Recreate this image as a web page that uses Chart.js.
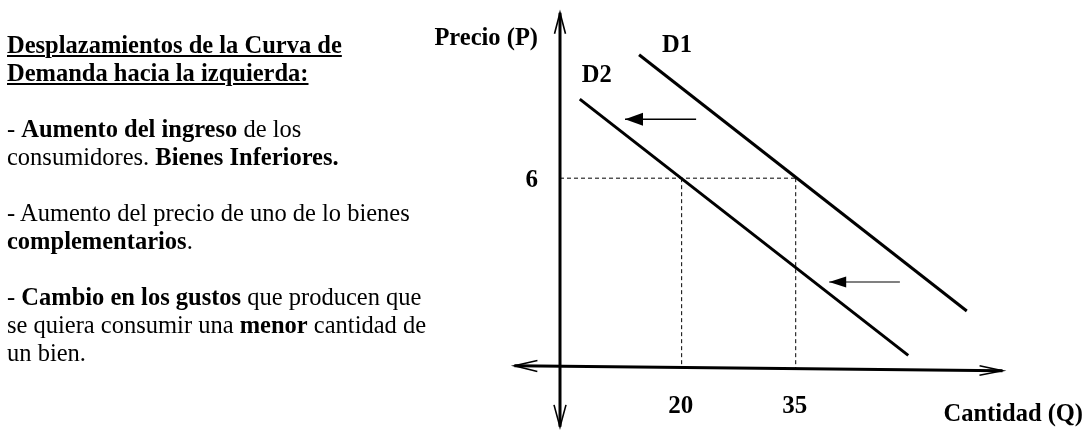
<!DOCTYPE html>
<html>
<head>
<meta charset="utf-8">
<script src="https://cdn.jsdelivr.net/npm/chart.js@4.4.1/dist/chart.umd.min.js"></script>
<style>
html,body{margin:0;padding:0;background:#fff;width:1088px;height:447px;overflow:hidden}
#wrap{position:absolute;left:0;top:0;width:1088px;height:447px}
#txt{position:absolute;left:7px;top:31px;font-family:"Liberation Serif","Times New Roman",serif;font-size:24.5px;line-height:28px;color:#000;white-space:nowrap;z-index:2}
#txt u{text-decoration-thickness:2px;text-underline-offset:2px}
</style>
</head>
<body>
<div id="wrap"><canvas id="c" width="1088" height="447"></canvas></div>
<div id="txt"><b><u>Desplazamientos de la Curva de</u></b><br><b><u>Demanda hacia la izquierda:</u></b><br><br>- <b>Aumento del ingreso</b> de los<br>consumidores. <b>Bienes Inferiores.</b><br><br>- Aumento del precio de uno de lo bienes<br><b>complementarios</b>.<br><br>- <b>Cambio en los gustos</b> que producen que<br>se quiera consumir una <b>menor</b> cantidad de<br>un bien.</div>
<script>
// ---- data (Q = cantidad, P = precio) ----
const xTickValues = [20, 35];
const yTickValues = [6];
const curveD1 = [{x:14.4, y:9.9}, {x:57.5, y:1.8}];
const curveD2 = [{x:6.6, y:8.5}, {x:49.8, y:0.4}];
const guidePrice = [{x:4, y:6}, {x:35, y:6}];
const guideQ20 = [{x:20, y:6}, {x:20, y:0}];
const guideQ35 = [{x:35, y:6}, {x:35, y:0}];
const axisPrice = [{x:4, y:11.23}, {x:4, y:-1.86}];
const axisQty = [{x:-2, y:0.07}, {x:62.2, y:-0.085}];
const shiftUpper = [{x:21.9, y:7.86}, {x:12.55, y:7.86}];
const shiftLower = [{x:48.7, y:2.72}, {x:39.4, y:2.72}];
const curveNames = ['D1', 'D2'];
const axisTitles = ['Precio (P)', 'Cantidad (Q)'];

const FONT = 'bold 24.5px "Liberation Serif", "Times New Roman", serif';
const NUMFONT = 'bold 25px "Liberation Serif", "Times New Roman", serif';

function ds(data, color, width, dash){
  return {data, showLine:true, borderColor:color, borderWidth:width, borderDash:dash||[],
          pointRadius:0, pointHoverRadius:0, fill:false, tension:0, clip:false, borderCapStyle:'butt'};
}

const deco = {
  id:'deco',
  afterDatasetsDraw(chart){
    const ctx = chart.ctx, xs = chart.scales.x, ys = chart.scales.y;
    const P = (i,j)=>chart.getDatasetMeta(i).data[j];
    function openHead(tip, from, len, half){
      const a = Math.atan2(tip.y-from.y, tip.x-from.x);
      const bx = tip.x - Math.cos(a)*len, by = tip.y - Math.sin(a)*len;
      const nx = -Math.sin(a)*half, ny = Math.cos(a)*half;
      ctx.save(); ctx.strokeStyle='#000'; ctx.lineWidth=1.6; ctx.lineJoin='miter';
      ctx.beginPath(); ctx.moveTo(bx+nx,by+ny); ctx.lineTo(tip.x,tip.y); ctx.lineTo(bx-nx,by-ny); ctx.stroke();
      ctx.restore();
    }
    function filledHead(tip, from, len, half){
      const a = Math.atan2(tip.y-from.y, tip.x-from.x);
      const bx = tip.x - Math.cos(a)*len, by = tip.y - Math.sin(a)*len;
      const nx = -Math.sin(a)*half, ny = Math.cos(a)*half;
      ctx.save(); ctx.fillStyle='#000';
      ctx.beginPath(); ctx.moveTo(tip.x,tip.y); ctx.lineTo(bx+nx,by+ny); ctx.lineTo(bx-nx,by-ny); ctx.closePath(); ctx.fill();
      ctx.restore();
    }
    // axes (datasets 5 and 6)
    openHead(P(5,0), P(5,1), 21, 5.5);
    openHead(P(5,1), P(5,0), 22, 6);
    openHead(P(6,0), P(6,1), 23, 5.5);
    openHead(P(6,1), P(6,0), 23, 4.8);
    // shift arrows (datasets 7 and 8)
    filledHead(P(7,1), P(7,0), 18, 6.5);
    filledHead(P(8,1), P(8,0), 17, 5.5);

    ctx.save();
    ctx.fillStyle = '#000';
    ctx.textBaseline = 'alphabetic';
    // tick labels
    ctx.font = NUMFONT;
    ctx.textAlign = 'center';
    const axisY = ys.getPixelForValue(0);
    xTickValues.forEach(v => ctx.fillText(String(v), xs.getPixelForValue(v) - 1, axisY + 45));
    ctx.textAlign = 'right';
    const axisX = xs.getPixelForValue(4);
    yTickValues.forEach(v => ctx.fillText(String(v), axisX - 22, ys.getPixelForValue(v) + 9));
    // curve names
    ctx.font = FONT;
    ctx.textAlign = 'left';
    const d1 = P(0,0), d2 = P(1,0);
    ctx.fillText(curveNames[0], d1.x + 23, d1.y - 3);
    ctx.fillText(curveNames[1], d2.x + 2, d2.y - 17);
    // axis titles
    ctx.textAlign = 'right';
    ctx.fillText(axisTitles[0], axisX - 22, ys.getPixelForValue(10.21));
    ctx.fillText(axisTitles[1], 1083, axisY + 53);
    ctx.restore();
  }
};

new Chart(document.getElementById('c'), {
  type:'scatter',
  data:{datasets:[
    ds(curveD1, '#000', 3),
    ds(curveD2, '#000', 3),
    ds(guidePrice, '#000', 1, [4,3]),
    ds(guideQ20, '#000', 1, [4,3]),
    ds(guideQ35, '#000', 1, [4,3]),
    ds(axisPrice, '#000', 3),
    ds(axisQty, '#000', 3),
    ds(shiftUpper, '#000', 1.5),
    ds(shiftLower, '#808080', 2)
  ]},
  options:{
    responsive:false, animation:false, devicePixelRatio:1,
    layout:{padding:{left:560, right:87, top:20, bottom:79}},
    plugins:{legend:{display:false}, tooltip:{enabled:false}, title:{display:false}},
    events:[],
    scales:{
      x:{type:'linear', min:4, max:62, display:false},
      y:{type:'linear', min:0, max:11, display:false}
    }
  },
  plugins:[deco]
});
</script>
</body>
</html>
